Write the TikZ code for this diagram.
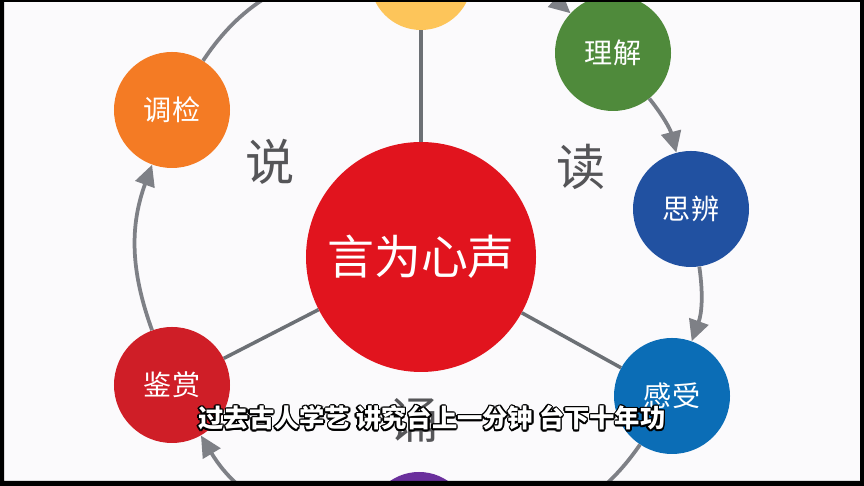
\documentclass[tikz,border=0pt]{standalone}
\usepackage{fontspec}
\setmainfont{Noto Sans CJK SC}
\usepackage{xcolor}
\usepackage{tikz}
\usetikzlibrary{shapes,arrows,positioning,calc,arrows.meta}

\definecolor{paper}{HTML}{FBFAFC}
\definecolor{bigred}{HTML}{E1141E}
\definecolor{yellowball}{HTML}{FDC55A}
\definecolor{greenball}{HTML}{4F8A3B}
\definecolor{navyball}{HTML}{2151A1}
\definecolor{blueball}{HTML}{0B6DB6}
\definecolor{orangeball}{HTML}{F47B24}
\definecolor{crimsonball}{HTML}{CF1E27}
\definecolor{purpleball}{HTML}{6A2F9C}
\definecolor{arrowgray}{HTML}{7E8086}
\definecolor{spokegray}{HTML}{6C7075}
\definecolor{labelgray}{HTML}{555558}

\tikzset{
  ball/.style={circle, minimum size=3.48cm, inner sep=0pt, text=white,
    font=\fontsize{24}{24}\selectfont},
  smallball/.style={circle, minimum size=3.06cm, inner sep=0pt},
  spoke/.style={draw=spokegray, line width=3pt},
  flow/.style={draw=arrowgray, line width=3.2pt,
    -{Triangle[length=18pt,width=17pt]}},
  skill/.style={text=labelgray, font=\fontsize{42}{42}\selectfont},
  subtitle/.style={font=\bfseries\fontsize{21.6}{23}\selectfont}
}

\begin{document}
\begin{tikzpicture}[x=0.03cm,y=0.03cm]
    % Canvas
    \useasboundingbox (0,0) rectangle (864,486);
    \fill[paper] (0,0) rectangle (864,486);
    \begin{scope}
    \clip (0,0) rectangle (864,486);

    % Centre
    \node[circle, fill=bigred, minimum size=6.9cm, inner sep=0pt, text=white,
      font=\fontsize{40}{40}\selectfont] (yan) at (421,229) {言为心声};

    % Outer ring
    \node[smallball, fill=yellowball] (top) at (421,507) {};
    \node[ball, fill=greenball] (lijie) at (613,433) {理解};
    \node[ball, fill=navyball] (sibian) at (691,277) {思辨};
    \node[ball, fill=blueball] (ganshou) at (672,90) {感受};
    \node[smallball, fill=purpleball] (bottom) at (419,-37) {};
    \node[ball, fill=crimsonball] (jianshang) at (172,101) {鉴赏};
    \node[ball, fill=orangeball] (tiaojian) at (172,376) {调检};

    % Spokes
    \draw[spoke] (top) -- (yan);
    \draw[spoke] (yan) -- (jianshang);
    \draw[spoke] (yan) -- (ganshou);

    % Cycle
    \draw[flow] (top) to[bend left=22] (lijie);
    \draw[flow] (lijie) to[bend left=12] (sibian);
    \draw[flow] (sibian) to[bend left=14] (ganshou);
    \draw[flow] (ganshou) to[bend left=30] (bottom);
    \draw[flow] (bottom) to[bend left=31] (jianshang);
    \draw[flow] (jianshang) to[bend left=20] (tiaojian);
    \draw[flow] (tiaojian) to[bend left=30] (top);

    % Labels
    \node[skill] (shuo) at (270,324) {说};
    \node[skill] (du) at (581,319) {读};
    \node[skill] (song) at (414,66) {诵};

    % Subtitle
    \foreach \a in {0,30,...,330}
      \node[subtitle, text=black] at ($(432,68)+(\a:1.3pt)$) {过去古人学艺 讲究台上一分钟 台下十年功};
    \node[subtitle, text=white] (caption) at (432,68) {过去古人学艺 讲究台上一分钟 台下十年功};
    \end{scope}

    % Frame
    \fill[black, even odd rule] (0,0) rectangle (864,486) (4,5) rectangle (860,484);
\end{tikzpicture}
\end{document}
